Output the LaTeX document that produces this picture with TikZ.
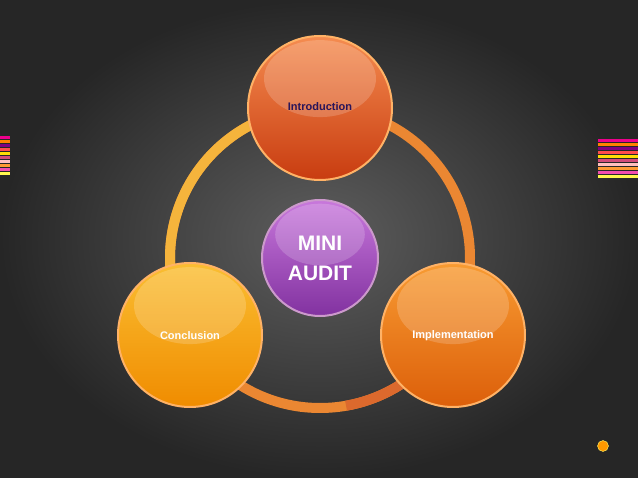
\documentclass[tikz,border=0pt]{standalone}
\usepackage{fontspec}
\setmainfont{Liberation Sans}
\usetikzlibrary{shadings}
\definecolor{bgin}{HTML}{5E5E5E}
\definecolor{bgout}{HTML}{262626}
\tikzset{
  ball/.style={circle, minimum size=144pt, inner sep=0pt, draw=#1!60!white, line width=2pt},
  lbl/.style={font=\bfseries\fontsize{11}{13}\selectfont, text=white},
}
\begin{document}
\begin{tikzpicture}[x=1pt,y=-1pt]
\useasboundingbox (0,0) rectangle (638,478);
\shade[inner color=bgin, outer color=bgout] (0,0) rectangle (638,478);
% ring
\draw[line width=10pt, color={rgb,255:red,235;green,135;blue,50}] (320,258) circle (150);
\draw[line width=10pt, color={rgb,255:red,245;green,180;blue,60}] (320,258) ++(140:150) arc (140:250:150);
\draw[line width=10pt, color={rgb,255:red,220;green,105;blue,45}] (320,258) ++(10:150) arc (10:80:150);
% stripes
\foreach \i/\c in {0/magenta,1/orange,2/violet,3/red!70,4/yellow!80!orange,5/purple!70,6/pink,7/orange!80,8/magenta!70,9/yellow!70} {
  \fill[\c] (0,136+\i*4) rectangle (10,139+\i*4);
  \fill[\c] (598,139+\i*4) rectangle (638,142+\i*4);
}
\node[ball=orange, top color={rgb,255:red,245;green,140;blue,80}, bottom color={rgb,255:red,200;green,60;blue,16}] (intro) at (320,108) {};
\node[ball=orange, top color={rgb,255:red,250;green,190;blue,50}, bottom color={rgb,255:red,240;green,140;blue,0}] (conc) at (190,335) {};
\node[ball=orange, top color={rgb,255:red,248;green,155;blue,50}, bottom color={rgb,255:red,220;green,95;blue,10}] (impl) at (453,335) {};
\node[circle, minimum size=116pt, inner sep=0pt, draw=violet!40!white, line width=2pt, top color={rgb,255:red,200;green,120;blue,220}, bottom color={rgb,255:red,130;green,50;blue,160}] (mid) at (320,258) {};
% gloss
\foreach \n/\r in {intro/70,conc/70,impl/70,mid/56} {
  \begin{scope}
    \clip (\n.center) circle (\r);
    \fill[white, opacity=0.18] ([yshift=0.42*\r]\n.center) ellipse ({0.8*\r} and {0.55*\r});
  \end{scope}
}
\node[lbl, text={rgb,255:red,40;green,20;blue,90}] (t1) at (320,107) {Introduction};
\node[lbl] (t2) at (190,336) {Conclusion};
\node[lbl] (t3) at (453,336) {Implementation};
\node[font=\bfseries\fontsize{21}{30}\selectfont, text=white, align=center] (t4) at (320,258) {MINI\\AUDIT};
\node[circle, minimum size=11pt, inner sep=0pt, fill=orange!80!yellow, draw=yellow!60] (dot) at (603,446) {};
\end{tikzpicture}
\end{document}
